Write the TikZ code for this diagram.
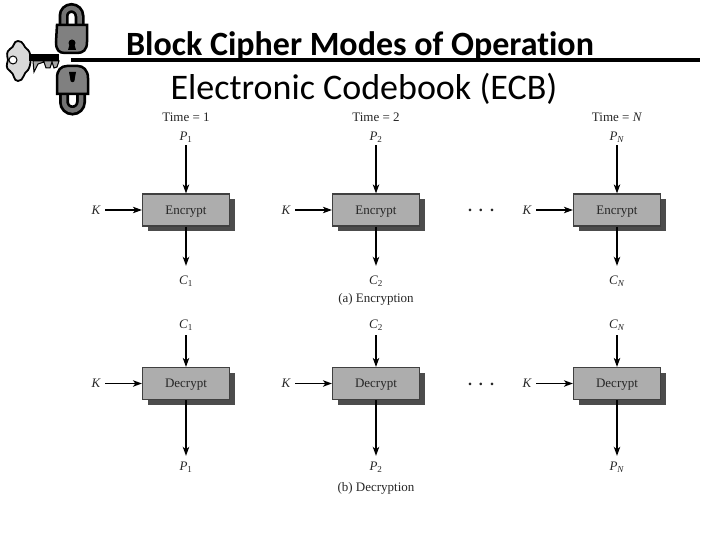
\documentclass[tikz,border=0pt]{standalone}
\usepackage{fontspec}
\setmainfont{Liberation Serif}
\newfontfamily\titlefont[Ligatures=CommonOff]{Carlito}
\usetikzlibrary{positioning, arrows.meta, shadows}

\begin{document}
\begin{tikzpicture}[x=1pt,y=-1pt,->,>={Stealth[length=9pt,width=6.5pt,inset=2.5pt]},line width=1.2pt,
    cipher node/.style={rectangle,draw=black!75,fill=black!32,minimum width=87pt,minimum height=32pt,inner sep=0pt,
        text=black!85,text height=8.6pt,text depth=0pt,font=\fontsize{13}{15}\selectfont,
        drop shadow={shadow xshift=5pt,shadow yshift=-5pt,fill=black!70,opacity=1}},
    text node/.style={inner sep=0pt,outer sep=4.5pt,text height=8.6pt,text depth=0pt,text=black!85,font=\fontsize{13}{15}\selectfont},
    title node/.style={inner sep=0pt,font=\titlefont}]

\useasboundingbox (0,0) rectangle (720,540);

% heading
\draw[-,line width=4.5pt] (71,60) -- (700,60);
\node[title node] (head) at (360,46.7) {\fontsize{34}{38}\selectfont\bfseries Block Cipher Modes of Operation};
\node[title node] (sub) at (364,89) {\fontsize{36}{40}\selectfont Electronic Codebook (ECB)};

% upper lock
\draw[-,line width=10pt,line cap=butt] (63.5,26) -- (63.5,16) arc[start angle=180,end angle=0,radius=8pt] -- (79.5,26);
\draw[-,line width=4.5pt,black!55] (63.5,26) -- (63.5,16) arc[start angle=180,end angle=0,radius=8pt] -- (79.5,26);
\draw[-,line width=2.5pt,fill=black!50] (57,25) -- (87,25) -- (87,42) .. controls (87,50) and (83,53) .. (77,53) -- (65,53) .. controls (59,53) and (56,50) .. (56,42) -- cycle;
\fill (72,43) circle[radius=3.5pt];
\fill (70,43) -- (74,43) -- (76,50) -- (68,50) -- cycle;

% lower lock
\draw[-,line width=10pt] (64,92) -- (64,102) arc[start angle=180,end angle=360,radius=8.5pt] -- (81,92);
\draw[-,line width=4.5pt,black!55] (64,92) -- (64,102) arc[start angle=180,end angle=360,radius=8.5pt] -- (81,92);
\draw[-,line width=2.5pt,fill=black!50] (57,94) -- (88,94) -- (88,78) .. controls (88,70) and (83,66) .. (78,66) -- (67,66) .. controls (61,66) and (57,70) .. (57,78) -- cycle;
\fill (69,72) -- (76,72) -- (74.5,80) -- (70.5,80) -- cycle;
\fill (72.5,80) circle[radius=2.2pt];

% key
\draw[-,line width=1.8pt,fill=black!15] (18,41) .. controls (24,41) and (23,47) .. (28,50) .. controls (32,54) and (31,66) .. (28,70) .. controls (23,73) and (24,81) .. (18,81) .. controls (13,81) and (15,74) .. (10,71) .. controls (5,68) and (7,64) .. (8,60) .. controls (7,55) and (6,52) .. (10,49) .. controls (15,47) and (13,41) .. (18,41) -- cycle;
\draw[-,line width=1pt,fill=white] (13,60) circle[radius=4pt];
\draw[-,line width=1pt,fill=black!35] (33,61) -- (34,72) -- (38,64) -- (44,62) -- (46,68) -- (50,68) -- (52,62) -- (54,68) -- (57,67) -- (59,61) -- cycle;
\fill (29,54.5) rectangle (59,61.5);

% encryption row
\node[cipher node] (enc1) at (186,210) {Encrypt};
\node[cipher node] (enc2) at (376,210) {Encrypt};
\node[cipher node] (encN) at (617,210) {Encrypt};

\node[text node] (ep1) [above=48.2pt of enc1] {\textit{P}\textsubscript{1}};
\node[text node] (ep2) [above=48.2pt of enc2] {\textit{P}\textsubscript{2}};
\node[text node] (epN) [above=48.2pt of encN] {\textit{P}\textsubscript{\textit{N}}};
\node[text node] (t1) [above=1.4pt of ep1] {Time = 1};
\node[text node] (t2) [above=1.4pt of ep2] {Time = 2};
\node[text node] (tN) [above=1.4pt of epN] {Time = \textit{N}};
\node[text node] (ec1) [below=45.2pt of enc1] {\textit{C}\textsubscript{1}};
\node[text node] (ec2) [below=45.2pt of enc2] {\textit{C}\textsubscript{2}};
\node[text node] (ecN) [below=45.2pt of encN] {\textit{C}\textsubscript{\textit{N}}};
\node[text node] (ek1) [left=36.5pt of enc1] {\textit{K}};
\node[text node] (ek2) [left=36.5pt of enc2] {\textit{K}};
\node[text node] (ekN) [left=36.5pt of encN] {\textit{K}};
\node[text node] (ea) [below=0.4pt of ec2] {(a) Encryption};
\node[text node] (edots) at (481,207) {\fontsize{16}{18}\selectfont\textbf{.\hspace{7pt}.\hspace{7pt}.}};

\path[]
(ep1) edge (enc1)
(ep2) edge (enc2)
(epN) edge (encN)
(enc1) edge[shorten >=6pt] (ec1)
(enc2) edge[shorten >=6pt] (ec2)
(encN) edge[shorten >=6pt] (ecN)
(ek1) edge (enc1)
(ek2) edge (enc2)
(ekN) edge (encN);

% decryption row
\node[cipher node] (dec1) at (186,383.5) {Decrypt};
\node[cipher node] (dec2) at (376,383.5) {Decrypt};
\node[cipher node] (decN) at (617,383.5) {Decrypt};

\node[text node] (dc1) [above=33.7pt of dec1] {\textit{C}\textsubscript{1}};
\node[text node] (dc2) [above=33.7pt of dec2] {\textit{C}\textsubscript{2}};
\node[text node] (dcN) [above=33.7pt of decN] {\textit{C}\textsubscript{\textit{N}}};
\node[text node] (dp1) [below=57.7pt of dec1] {\textit{P}\textsubscript{1}};
\node[text node] (dp2) [below=57.7pt of dec2] {\textit{P}\textsubscript{2}};
\node[text node] (dpN) [below=57.7pt of decN] {\textit{P}\textsubscript{\textit{N}}};
\node[text node] (dk1) [left=36.5pt of dec1] {\textit{K}};
\node[text node] (dk2) [left=36.5pt of dec2] {\textit{K}};
\node[text node] (dkN) [left=36.5pt of decN] {\textit{K}};
\node[text node] (db) [below=3.4pt of dp2] {(b) Decryption};
\node[text node] (ddots) at (481,381) {\fontsize{16}{18}\selectfont\textbf{.\hspace{7pt}.\hspace{7pt}.}};

\path[]
(dc1) edge[shorten <=2pt] (dec1)
(dc2) edge[shorten <=2pt] (dec2)
(dcN) edge[shorten <=2pt] (decN)
(dec1) edge[shorten >=2pt] (dp1)
(dec2) edge[shorten >=2pt] (dp2)
(decN) edge[shorten >=2pt] (dpN)
(dk1) edge (dec1)
(dk2) edge (dec2)
(dkN) edge (decN);
\end{tikzpicture}
\end{document}
